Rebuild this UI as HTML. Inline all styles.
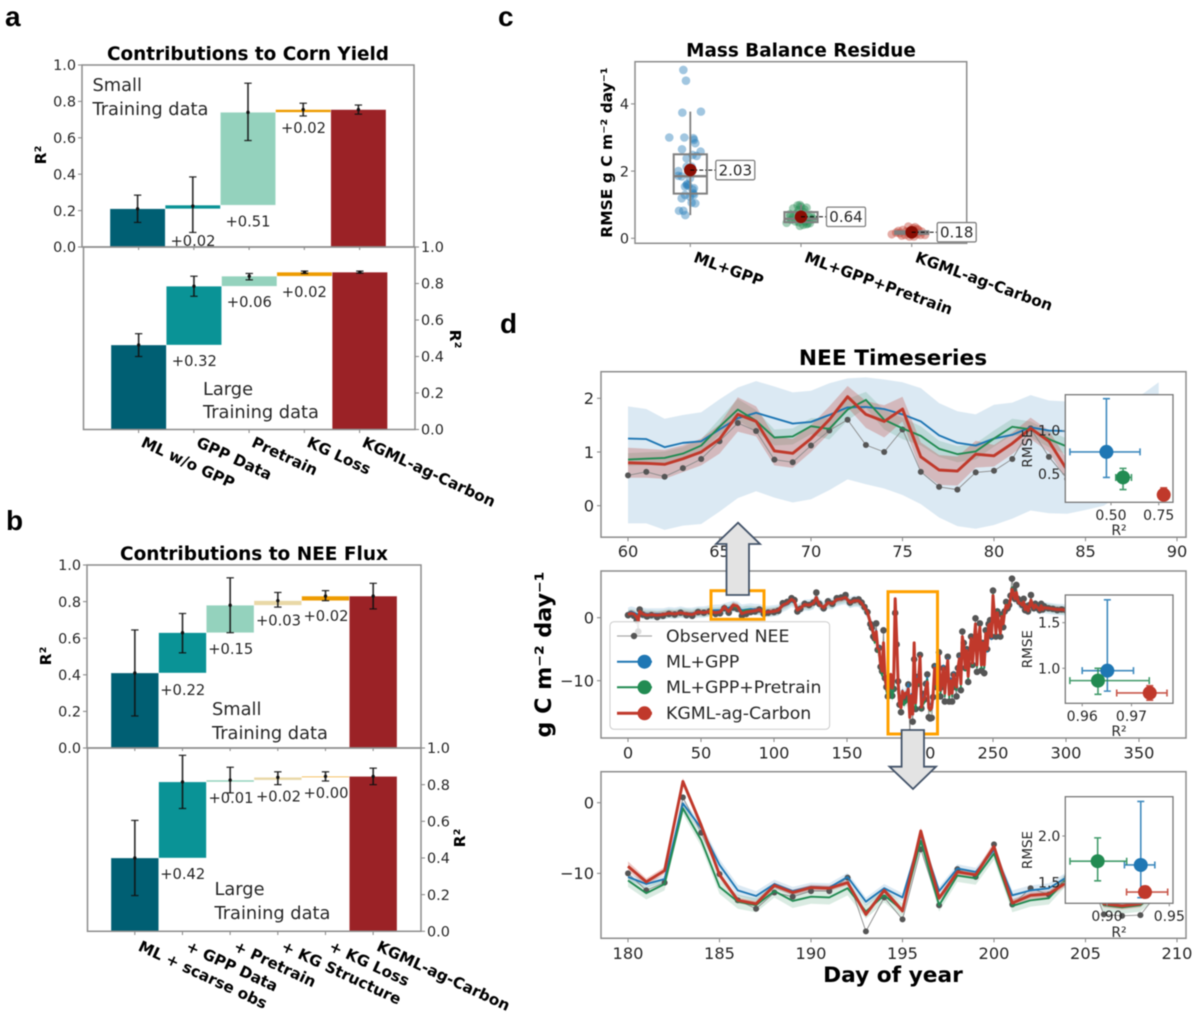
<!DOCTYPE html>
<html lang="en">
<head>
<meta charset="utf-8">
<title>KGML-ag-Carbon contributions and NEE timeseries</title>
<style>
html,body{margin:0;padding:0;background:#fff;}
body{width:1200px;height:1034px;overflow:hidden;}
svg{display:block;filter:blur(0.45px);}
text{font-family:"DejaVu Sans","Liberation Sans",sans-serif;fill:#262626;}
.t{font-weight:bold;fill:#000;}
.letter{font-family:"Liberation Sans",sans-serif;font-weight:bold;font-size:28px;fill:#000;}
.note{font-size:17.8px;}
.delta{font-size:14.7px;text-anchor:middle;}
.frame{fill:none;stroke:#8c8c8c;stroke-width:1.5;}
.leg{font-size:17.3px;fill:#262626;}
</style>
</head>
<body>
<svg id="figure" xmlns="http://www.w3.org/2000/svg" width="1200" height="1034" viewBox="0 0 1200 1034">
  <rect x="0" y="0" width="1200" height="1034" fill="#fff"/>

  <text class="letter" x="5" y="26">a</text>
  <text class="letter" x="6" y="530">b</text>
  <text class="letter" x="498" y="26">c</text>
  <text class="letter" x="500" y="333">d</text>

  <!-- Panel A -->
  <g id="panel-a">
    <text class="t" x="248" y="60" font-size="18.4" text-anchor="middle">Contributions to Corn Yield</text>
    <g id="a-top-bars"></g>
    <g id="a-bottom-bars"></g>
    <rect class="frame" x="82" y="65" width="332" height="182"/>
    <rect class="frame" x="83.5" y="247" width="331.5" height="182.5"/>
    <g id="a-ticks"></g>
    <text class="t" transform="translate(46,155) rotate(-90)" font-size="15.5" text-anchor="middle">R²</text>
    <text class="t" transform="translate(450,339) rotate(90)" font-size="15.5" text-anchor="middle">R²</text>
    <text class="note" x="92.5" y="91">Small</text>
    <text class="note" x="92.5" y="115">Training data</text>
    <text class="note" x="203" y="395">Large</text>
    <text class="note" x="203" y="418">Training data</text>
    <text class="delta" x="193" y="246">+0.02</text>
    <text class="delta" x="248" y="226.5">+0.51</text>
    <text class="delta" x="303.5" y="133">+0.02</text>
    <text class="delta" x="194.3" y="366">+0.32</text>
    <text class="delta" x="249.3" y="307">+0.06</text>
    <text class="delta" x="304.3" y="297">+0.02</text>
  </g>

  <!-- Panel B -->
  <g id="panel-b">
    <text class="t" x="254" y="560" font-size="18.5" text-anchor="middle">Contributions to NEE Flux</text>
    <g id="b-top-bars"></g>
    <g id="b-bottom-bars"></g>
    <rect class="frame" x="87" y="565" width="334" height="183"/>
    <rect class="frame" x="87.5" y="748" width="333.5" height="183.3"/>
    <g id="b-ticks"></g>
    <text class="t" transform="translate(51,656) rotate(-90)" font-size="15.5" text-anchor="middle">R²</text>
    <text class="t" transform="translate(465,838) rotate(-90)" font-size="15.5" text-anchor="middle">R²</text>
    <text class="note" x="212" y="715">Small</text>
    <text class="note" x="212" y="739">Training data</text>
    <text class="note" x="214.5" y="895">Large</text>
    <text class="note" x="214.5" y="919">Training data</text>
    <text class="delta" x="182.7" y="695">+0.22</text>
    <text class="delta" x="230.7" y="654">+0.15</text>
    <text class="delta" x="278.5" y="625.7">+0.03</text>
    <text class="delta" x="326" y="621">+0.02</text>
    <text class="delta" x="182.7" y="879">+0.42</text>
    <text class="delta" x="231" y="803">+0.01</text>
    <text class="delta" x="278.5" y="801.7">+0.02</text>
    <text class="delta" x="326" y="798">+0.00</text>
  </g>

  <!-- Panel C -->
  <g id="panel-c">
    <text class="t" x="801" y="56.5" font-size="18.4" text-anchor="middle">Mass Balance Residue</text>
    <g id="c-marks"></g>
    <rect class="frame" x="635" y="61.7" width="331.7" height="181.6"/>
    <g id="c-ticks"></g>
    <g id="c-annotations"></g>
    <text class="t" transform="translate(612,152.5) rotate(-90)" font-size="15.5" text-anchor="middle">RMSE g C m⁻² day⁻¹</text>
  </g>

  <!-- Panel D -->
  <g id="panel-d">
    <text class="t" x="893" y="365" font-size="21.7" text-anchor="middle">NEE Timeseries</text>
    <g id="d-top-series"></g>
    <g id="d-mid-series"></g>
    <g id="d-bottom-series"></g>
    <rect class="frame" x="601" y="371.7" width="585" height="165.5"/>
    <rect class="frame" x="601" y="571" width="585" height="167"/>
    <rect class="frame" x="601" y="771.7" width="585" height="166.6"/>
    <g id="d-ticks"></g>
    <text class="t" transform="translate(551,654.5) rotate(-90)" font-size="22.2" text-anchor="middle">g C m⁻² day⁻¹</text>
    <text class="t" x="893" y="982" font-size="21.7" text-anchor="middle">Day of year</text>

    <g id="legend">
      <rect x="610" y="621.7" width="219.6" height="107.6" rx="4" fill="#fff" fill-opacity="0.8" stroke="#ccc" stroke-width="1"/>
      <line x1="617" x2="652" y1="636" y2="636" stroke="#aaa" stroke-width="1.2"/>
      <circle cx="634" cy="636" r="3.2" fill="#555"/>
      <text class="leg" x="666" y="642">Observed NEE</text>
      <line x1="617" x2="652" y1="661.7" y2="661.7" stroke="#1f77b4" stroke-width="2"/>
      <circle cx="644.5" cy="661.7" r="7" fill="#1f77b4"/>
      <text class="leg" x="666" y="667.5">ML+GPP</text>
      <line x1="617" x2="652" y1="687.3" y2="687.3" stroke="#228b52" stroke-width="2"/>
      <circle cx="644.5" cy="687.3" r="7" fill="#228b52"/>
      <text class="leg" x="666" y="693">ML+GPP+Pretrain</text>
      <line x1="617" x2="652" y1="713.3" y2="713.3" stroke="#c0392b" stroke-width="3"/>
      <circle cx="644.5" cy="713.3" r="7" fill="#c0392b"/>
      <text class="leg" x="666" y="719">KGML-ag-Carbon</text>
    </g>

    <rect x="711" y="590.7" width="53" height="28.6" fill="none" stroke="#ffa000" stroke-width="3"/>
    <rect x="888" y="591.7" width="49.5" height="142.3" fill="none" stroke="#ffa000" stroke-width="3"/>

    <g id="d-insets"></g>

    <path d="M738 522.7 L760 544 L749 544 L749 595 L726.5 595 L726.5 544 L716 544 Z" fill="#e3e3e3" stroke="#44546a" stroke-width="1.8"/>
    <path d="M913 789 L936 766.7 L924 766.7 L924 730 L901.6 730 L901.6 766.7 L889.5 766.7 Z" fill="#e3e3e3" stroke="#44546a" stroke-width="1.8"/>
  </g>
</svg>

<script>
/* ---------- Panel A data ---------- */
const cornCategories = ['ML w/o GPP', 'GPP Data', 'Pretrain', 'KG Loss', 'KGML-ag-Carbon'];
const cornSmallBase = [0, 0.21, 0.23, 0.74, 0];
const cornSmallTop = [0.21, 0.23, 0.74, 0.755, 0.755];
const cornSmallMean = [0.21, 0.225, 0.74, 0.755, 0.755];
const cornSmallLow = [0.135, 0.08, 0.585, 0.72, 0.73];
const cornSmallHigh = [0.285, 0.385, 0.9, 0.79, 0.78];
const cornLargeBase = [0, 0.463, 0.785, 0.84, 0];
const cornLargeTop = [0.463, 0.785, 0.84, 0.862, 0.862];
const cornLargeMean = [0.463, 0.785, 0.84, 0.862, 0.862];
const cornLargeLow = [0.4, 0.73, 0.82, 0.855, 0.857];
const cornLargeHigh = [0.525, 0.84, 0.855, 0.868, 0.868];
const cornColours = ['#005f73', '#0a9396', '#94d2bd', '#ee9b00', '#9b2226'];

/* ---------- Panel B data ---------- */
const neeCategories = ['ML + scarse obs', '+ GPP Data', '+ Pretrain', '+ KG Structure', '+ KG Loss', 'KGML-ag-Carbon'];
const neeSmallBase = [0, 0.41, 0.63, 0.78, 0.805, 0];
const neeSmallTop = [0.41, 0.63, 0.78, 0.805, 0.83, 0.83];
const neeSmallMean = [0.41, 0.63, 0.78, 0.805, 0.83, 0.83];
const neeSmallLow = [0.175, 0.52, 0.63, 0.77, 0.805, 0.76];
const neeSmallHigh = [0.645, 0.735, 0.93, 0.85, 0.86, 0.9];
const neeLargeBase = [0, 0.4, 0.815, 0.825, 0.84, 0];
const neeLargeTop = [0.4, 0.815, 0.825, 0.84, 0.845, 0.845];
const neeLargeMean = [0.4, 0.815, 0.825, 0.84, 0.845, 0.845];
const neeLargeLow = [0.195, 0.67, 0.755, 0.8, 0.82, 0.8];
const neeLargeHigh = [0.605, 0.96, 0.895, 0.87, 0.87, 0.89];
const neeColours = ['#005f73', '#0a9396', '#94d2bd', '#e9d8a6', '#ee9b00', '#9b2226'];
const r2TickLabels = ['0.0', '0.2', '0.4', '0.6', '0.8', '1.0'];

/* ---------- Panel C data ---------- */
const massCategories = ['ML+GPP', 'ML+GPP+Pretrain', 'KGML-ag-Carbon'];
const massMeans = [2.03, 0.64, 0.18];
const massQ1 = [1.33, 0.48, 0.13];
const massMedian = [1.85, 0.58, 0.17];
const massQ3 = [2.5, 0.78, 0.21];
const massWhiskerLow = [0.69, 0.43, 0.08];
const massWhiskerHigh = [3.77, 1.0, 0.3];
const massYTicks = [0, 2, 4];
const massBluePointValues = [5.01,4.69,3.74,3.77,3.0,3.0,2.98,2.93,2.83,2.65,2.58,2.48,2.45,2.38,2.0,1.84,1.79,1.59,1.57,1.49,1.86,1.34,1.29,1.24,1.29,1.19,1.06,1.04,0.82,0.82,0.69,2.13,2.13,1.54,1.62,1.45];
const massBluePointJitter = [-0.063,-0.039,-0.072,0.096,-0.19,-0.054,0.027,0.033,0.045,-0.075,0.093,0.021,0.057,-0.033,-0.108,-0.078,-0.003,-0.033,-0.018,0.033,-0.108,0.027,0.033,-0.003,-0.048,-0.078,0.012,0.045,-0.102,-0.063,-0.045,-0.033,0.012,-0.048,-0.028,0.02];
const massGreenPointValues = [0.46,0.64,0.89,0.99,0.91,0.74,0.5,0.4,0.45,0.37,0.5,0.64,0.64,0.84,0.79,0.59,0.94,0.55,0.7,0.42,0.98,0.86,0.48,0.44,0.72,0.56];
const massGreenPointJitter = [-0.13,-0.1,-0.07,-0.01,0.05,-0.04,-0.05,0.02,0.08,-0.01,0.04,0.07,-0.07,-0.02,0.02,0.11,0,-0.09,0.09,0.05,-0.03,0.03,-0.02,0.06,-0.1,0.1];
const massRedPointValues = [0.12,0.35,0.33,0.25,0.25,0.1,0.17,0.15,0.2,0.05,0.1,0.05,0.1,0.17,0.3,0.22,0.28,0.12,0.2,0.08];
const massRedPointJitter = [-0.18,-0.03,0.03,-0.08,0.06,0.12,-0.14,-0.11,-0.05,0.02,0.08,-0.02,-0.06,0.03,0.01,-0.12,0.05,0.05,0.09,-0.09];

/* ---------- Panel D spring window (days 60-89) ---------- */
const springDays = [60,61,62,63,64,65,66,67,68,69,70,71,72,73,74,75,76,77,78,79,80,81,82,83,84,85,86,87,88,89];
const springObserved = [0.565,0.63,0.54,0.70,0.87,1.2,1.54,1.39,0.857,0.81,1.12,1.4,1.6,1.13,1.0,1.42,0.63,0.35,0.30,0.62,0.65,0.87,1.44,0.91,0.5,0.45,0.6,0.7,0.6,0.5];
const springBlue = [1.25,1.24,1.09,1.17,1.2,1.42,1.63,1.73,1.63,1.53,1.56,1.69,1.83,1.84,1.8,1.7,1.57,1.31,1.17,1.12,1.25,1.32,1.46,1.4,1.39,1.4,1.42,1.4,1.45,1.5];
const springGreen = [0.86,0.875,0.89,0.97,1.12,1.47,1.79,1.58,1.27,1.29,1.48,1.43,1.79,1.97,1.6,1.44,1.3,1.06,0.96,1.01,1.25,1.47,1.42,1.24,1.1,1,1,1.05,1.1,1.1];
const springRed = [0.8,0.79,0.77,0.875,1,1.24,1.7,1.57,1.02,0.975,1.25,1.6,2.03,1.7,1.57,1.8,0.91,0.665,0.645,0.96,0.93,1.16,1.44,1.2,0.66,0.6,0.7,0.8,0.7,0.6];
const springBlueUpper = [1.85,1.8,1.62,1.69,1.74,1.98,2.2,2.32,2.22,2.11,2.14,2.28,2.37,2.39,2.35,2.3,2.19,1.91,1.76,1.7,1.88,1.92,2.06,1.96,1.94,1.95,1.96,1.95,2.05,2.3];
const springBlueLower = [-0.33,-0.33,-0.45,-0.37,-0.34,-0.11,0.14,0.27,0.15,0.06,0.12,0.29,0.49,0.4,0.32,0.2,0.03,-0.22,-0.38,-0.43,-0.36,-0.24,-0.09,-0.14,-0.15,-0.08,0,0.23,0.5,0.6];
const springGreenSpread = [0.12,0.12,0.12,0.12,0.12,0.15,0.2,0.2,0.15,0.15,0.15,0.2,0.2,0.15,0.18,0.2,0.18,0.15,0.15,0.15,0.15,0.15,0.15,0.15,0.15,0.15,0.15,0.15,0.15,0.15];
const springRedSpread = [0.28,0.27,0.27,0.25,0.25,0.27,0.32,0.28,0.27,0.27,0.25,0.25,0.2,0.25,0.3,0.23,0.27,0.28,0.27,0.25,0.2,0.2,0.2,0.2,0.2,0.2,0.2,0.2,0.2,0.2];

/* ---------- Panel D summer window (days 180-209) ---------- */
const summerDays = [180,181,182,183,184,185,186,187,188,189,190,191,192,193,194,195,196,197,198,199,200,201,202,203,204,205,206,207,208,209];
const summerObserved = [-10,-12.4,-11.3,0.75,-4.25,-10.1,-13.8,-15,-12.7,-13.3,-12.5,-12.5,-10.6,-18.2,-13.4,-16.5,-6.6,-14.5,-9.4,-10.5,-5.9,-14.4,-12.1,-13,-10.5,-9,-15.8,-16,-15.9,-12.6];
const summerBlue = [-10.5,-11.5,-10.8,-0.1,-3.6,-8.8,-12.4,-13.2,-11.5,-12.5,-11.9,-12,-10.5,-14,-12.1,-13.4,-4.6,-12.5,-9.3,-9.8,-6.7,-13.1,-12.4,-12.1,-10.5,-9.5,-13.5,-13.8,-13.5,-12];
const summerGreen = [-11,-12.8,-11.5,-0.8,-5.3,-11.9,-14,-14.5,-12.5,-13.9,-13.3,-13.4,-12.1,-15.4,-13.1,-15.2,-5.4,-14.5,-10.3,-10.7,-7.2,-14.6,-13.8,-13.5,-10.7,-9.8,-14.5,-14.8,-14.5,-12.5];
const summerRed = [-9,-11.2,-9.6,3,-3.2,-10.2,-13.8,-14.3,-11.7,-12.7,-12,-12.1,-11.3,-15.8,-12.4,-15.3,-4,-13.5,-9.8,-10.2,-6.2,-14.2,-13.1,-12.9,-11.2,-10.2,-14.3,-14.6,-14.3,-12.1];
const summerBlueSpread = [0.5,0.5,0.5,0.6,0.7,0.8,0.8,0.7,0.6,0.6,0.6,0.6,0.6,0.6,0.6,0.6,0.6,0.6,0.6,0.6,0.6,0.7,0.7,0.7,0.7,0.7,0.7,0.7,0.7,0.7];
const summerGreenSpread = [0.9,0.9,0.9,0.8,0.9,1,1,1,0.9,1,1,1,1,1,1,1,0.9,0.9,0.9,0.9,0.9,0.9,0.9,0.9,0.9,0.9,0.9,0.9,0.9,0.9];
const summerRedSpread = [0.7,0.5,0.5,0.5,0.5,0.5,0.4,0.4,0.4,0.4,0.4,0.4,0.4,0.4,0.4,0.4,0.5,0.4,0.5,0.5,0.7,0.5,0.5,0.5,0.5,0.5,0.5,0.5,0.5,0.5];

/* ---------- Panel D full year (day, then each series, in three pieces) ---------- */
const yearEarlyDays = [0,2,4,6,7,8,10,13,16,20,24,28,32,36,40,44,48,52,56,60,63,66,69,72,75,78,81,84,87,90,93,96,100,103,106,109,112,114,116,118,121,124,127,129,131,134,137,140,143,146,149,152,155,158,160,162,164];
const yearObservedEarly = [0.4,0.6,0.3,-0.4,-2.2,1.3,0.5,0.2,0.4,0.1,0.3,0.6,0.5,0.8,0.4,0.3,0.9,0.8,1,0.6,0.7,1.5,0.8,1.6,1.4,0.3,0.6,0.9,1,1.3,0.6,0.8,0.9,1.1,2.3,2.5,3.1,2.8,1,1.4,2.2,2,2.4,4,2.2,1.5,2.6,2.2,3.1,3.2,3.6,2.4,2.8,2.9,2.4,1.7,0.9];
const yearRedEarly = [0.5,0.7,0.6,0.1,-0.5,1,0.6,0.4,0.5,0.4,0.5,0.7,0.6,0.8,0.6,0.5,0.9,0.8,1,0.8,0.9,1.7,1,2,1.8,0.65,0.9,1,1.1,1.3,0.8,0.9,1,1.2,2,2.3,2.9,2.6,1.2,1.5,2.1,2,2.3,3.2,2.1,1.6,2.4,2.2,2.9,3,3.2,2.4,2.7,2.7,2.3,1.6,0.9];
const yearBlueEarly = [0.7,0.9,0.8,0.6,0.5,0.9,0.7,0.6,0.6,0.6,0.6,0.8,0.7,0.9,0.7,0.7,0.9,0.9,1.1,1.2,1.2,1.4,1.6,1.8,1.7,1.2,1.3,1.4,1.3,1.3,1,1,1.1,1.2,1.8,2.1,2.6,2.4,1.3,1.5,2,2,2.2,3,2.2,1.7,2.3,2.2,2.7,2.9,3,2.4,2.6,2.6,2.2,1.5,0.8];
const yearGreenEarly = [0.5,0.7,0.6,0.3,0.2,0.9,0.6,0.5,0.5,0.4,0.5,0.7,0.6,0.8,0.7,0.6,0.9,0.8,1,0.9,1,1.5,1.3,1.8,1.5,1,1.2,1.2,1.1,1.2,0.9,0.9,1,1.1,1.9,2.2,2.7,2.5,1.2,1.5,2,1.9,2.2,3,2.1,1.6,2.3,2.1,2.8,2.9,3.1,2.3,2.6,2.6,2.2,1.4,0.7];

const yearDeclineDays = [166,167,168,169,170,171,172,173,174,175,176,177,178,179];
const yearObservedDecline = [-1,-1.6,-3,-3.3,-0.9,-5.1,-4.8,-7.8,-8.5,-2,-9.6,-11,-12.5,-11.6];
const yearRedDecline = [-0.8,-1.5,-2.5,-3.5,-2.2,-4.8,-5,-7.5,-8.5,-4,-9.5,-11,-11.8,-10.8];
const yearBlueDecline = [-0.6,-1.2,-2.2,-3,-2,-4.3,-4.6,-7,-8,-4,-9,-10.5,-11.3,-10.4];
const yearGreenDecline = [-1.1,-1.9,-3,-4,-2.8,-5.4,-5.6,-8.2,-9.2,-4.8,-10.2,-11.7,-12.6,-11.6];

const yearRecoveryDays = [210,211,212,213,214,215,216,217,218,219,220,221,222,223,224,225,226,227,228,229,230,231,232,233,234,235,236,237,238,239,240,241,242,243,244,245,246,247,248,249,250,251,252,253,254,255,256,257,258,259,260,261,262,263,264,265,266,267,268,269,270,271,272,273,274,275,276,277,278,279,280,281,282,283,284,285];
const yearObservedRecovery = [-7.7,-11,-9,-5.5,-12.5,-11,-8,-13.3,-9,-6.2,
  -13.3,-10,-13.3,-9,-11,-12.5,-8,-6,-11.5,-2.2,
  -4,-8,-5,-10.2,-6,-3,-7.5,-4,-0.1,-8.6,
  -3,-0.9,-8.4,-4,-8.8,-2,-5,-1,-0.4,-3,
  4.3,0.5,-3,1,-1,-3,0.5,-1.5,1,2.5,
  1.5,2,3.5,6.2,4.5,3,5.2,3,2.5,2.5,
  2,3,1.2,1.8,1,2,3.6,2,1.5,2.2,
  1.8,1.5,1.2,2.2,1.3,1.8];
const yearRedRecovery = [-8,-10.5,-9,-6,-11.5,-10.5,-8,-12,-9,-6.8,
  -12.2,-10,-12,-9,-10.5,-11,-8,-6.5,-10.5,-3,
  -4.5,-8,-5.2,-9.3,-6,-3.3,-7.2,-4,-1,-7.5,
  -3.3,-1.5,-7.5,-4,-7.5,-2.5,-5,-1.2,-1,-3,
  3.5,0.3,-2.5,0.8,-1,-2.5,0.2,-1,1,2,
  1.5,2,3,4.5,3.8,3,4,2.8,2.3,2.3,
  2,2.5,1.3,1.8,1.1,1.8,2.8,2,1.5,2,
  1.7,1.5,1.2,1.9,1.3,1.6];
const yearBlueRecovery = [-7.6,-10,-8.6,-5.7,-11,-10,-7.6,-11.5,-8.6,-6.5,
  -11.7,-9.6,-11.5,-8.7,-10,-10.5,-7.7,-6.2,-10,-3,
  -4.3,-7.6,-5,-9,-5.8,-3.4,-7,-4,-1.3,-7.3,
  -3.5,-2,-7.6,-4.5,-8,-3.2,-5.4,-1.8,-1.5,-3.4,
  2.8,0.2,-2.4,0.7,-0.9,-2.2,0.2,-0.8,1,1.8,
  1.5,1.9,2.8,4,3.5,2.9,3.6,2.7,2.3,2.3,
  2,2.4,1.4,1.8,1.2,1.8,2.5,2,1.6,2,
  1.7,1.5,1.3,1.8,1.4,1.6];
const yearGreenRecovery = [-8.4,-11,-9.4,-6.4,-12,-11,-8.4,-12.5,-9.4,-7.2,
  -12.7,-10.4,-12.5,-9.4,-11,-11.5,-8.4,-6.9,-11,-3.4,
  -4.8,-8.4,-5.5,-9.7,-6.4,-3.6,-7.6,-4.3,-1.2,-7.9,
  -3.6,-1.7,-8,-4.3,-8,-2.7,-5.2,-1.3,-1,-3,
  3.7,0.6,-2.2,1.1,-0.7,-2.1,0.5,-0.7,1.2,2.2,
  1.7,2.1,3.1,4.8,4,3.2,4.2,3,2.5,2.4,
  2.1,2.6,1.4,1.9,1.2,1.9,2.9,2.1,1.6,2.1,
  1.8,1.6,1.3,2,1.4,1.7];

const yearLateDays = [288,291,294,297,300,303,306,309,312,315,318,321,324,327,330,333,336,339,342,345,348,351,354,357,360,363];
const yearObservedLate = [1.5,1.4,1.2,1.3,1.2,1.1,1,1,1,0.9,0.9,0.9,0.8,0.8,0.8,0.7,0.7,0.7,0.6,0.6,0.6,0.6,0.5,0.5,0.5,0.5];
const yearRedLate = [1.5,1.4,1.3,1.3,1.2,1.1,1.1,1,1,0.9,0.9,0.9,0.8,0.8,0.8,0.7,0.7,0.7,0.6,0.6,0.6,0.6,0.5,0.5,0.5,0.5];
const yearBlueLate = [1.5,1.4,1.3,1.3,1.2,1.2,1.1,1,1,1,0.9,0.9,0.8,0.8,0.8,0.7,0.7,0.7,0.7,0.6,0.6,0.6,0.5,0.5,0.5,0.5];
const yearGreenLate = [1.5,1.4,1.3,1.2,1.2,1.1,1,1,1,0.9,0.9,0.8,0.8,0.8,0.7,0.7,0.7,0.7,0.6,0.6,0.6,0.5,0.5,0.5,0.5,0.5];
const yearBlueSpread = 0.9;
const yearGreenSpread = 0.7;
const yearRedSpread = 0.5;

const springXTicks = [60,65,70,75,80,85,90];
const springYTicks = [0,1,2];
const yearXTicks = [0,50,100,150,200,250,300,350];
const yearYTicks = [0,-10];
const summerXTicks = [180,185,190,195,200,205,210];
const summerYTicks = [0,-10];

/* ---------- Inset data (order: ML+GPP, ML+GPP+Pretrain, KGML-ag-Carbon) ---------- */
const springInsetR2 = [0.476,0.563,0.776];
const springInsetR2Low = [0.285,0.525,0.755];
const springInsetR2High = [0.652,0.607,0.80];
const springInsetRmse = [0.755,0.46,0.26];
const springInsetRmseLow = [0.46,0.32,0.2];
const springInsetRmseHigh = [1.37,0.565,0.34];
const springInsetXTicks = [0.5,0.75];
const springInsetYTicks = [0.5,1.0];

const yearInsetR2 = [0.9651,0.9632,0.9737];
const yearInsetR2Low = [0.96,0.9575,0.967];
const yearInsetR2High = [0.9704,0.9736,0.9772];
const yearInsetRmse = [0.974,0.865,0.73];
const yearInsetRmseLow = [0.75,0.715,0.65];
const yearInsetRmseHigh = [1.75,1.0,0.81];
const yearInsetXTicks = [0.96,0.97];
const yearInsetYTicks = [1.0,1.5];

const summerInsetR2 = [0.9271,0.8925,0.9305];
const summerInsetR2Low = [0.914,0.8703,0.9157];
const summerInsetR2High = [0.9384,0.9158,0.9487];
const summerInsetRmse = [1.69,1.73,1.40];
const summerInsetRmseLow = [1.34,1.52,1.34];
const summerInsetRmseHigh = [2.37,1.98,1.46];
const summerInsetXTicks = [0.9,0.95];
const summerInsetYTicks = [1.5,2.0];

const seriesBlue = '#1f77b4';
const seriesGreen = '#228b52';
const seriesRed = '#c0392b';

/* ---------- helpers ---------- */
const SVG_NS = 'http://www.w3.org/2000/svg';
function make(tag, attrs, parent) {
  const el = document.createElementNS(SVG_NS, tag);
  Object.keys(attrs).forEach(function (k) { el.setAttribute(k, attrs[k]); });
  parent.appendChild(el);
  return el;
}
function pathOf(xs, ys) {
  return xs.map(function (x, i) { return (i ? 'L' : 'M') + x.toFixed(2) + ' ' + ys[i].toFixed(2); }).join(' ');
}
function areaOf(xs, upper, lower) {
  const top = xs.map(function (x, i) { return (i ? 'L' : 'M') + x.toFixed(2) + ' ' + upper[i].toFixed(2); });
  const bottom = xs.map(function (x, i) { return 'L' + x.toFixed(2) + ' ' + lower[i].toFixed(2); }).reverse();
  return top.concat(bottom).join(' ') + ' Z';
}
function tickLine(parent, x1, y1, x2, y2) {
  const t = make('line', {x1: x1, y1: y1, x2: x2, y2: y2, stroke: '#8c8c8c', 'stroke-width': 1.1}, parent);
  
  
}
function tickText(parent, x, y, anchor, size, content) {
  const t = make('text', {x: x, y: y, 'text-anchor': anchor, 'font-size': size}, parent);
  
  
  t.textContent = content;
}
function rotatedLabel(parent, x, y, angle, size, content) {
  const t = make('text', {transform: 'translate(' + x + ',' + y + ') rotate(' + angle + ')', 'font-size': size, class: 't'}, parent);
  
  
  t.textContent = content;
}

/* ---------- waterfall bars ---------- */
function drawWaterfall(parent, base, top, mean, low, high, colours, xLeft, band, yZero, yUnit) {
  const sy = function (v) { return yZero - v * yUnit; };
  base.forEach(function (b, i) {
    const bar = make('rect', {x: xLeft + i * band, y: sy(top[i]), width: band, height: Math.max(sy(b) - sy(top[i]), 0), fill: colours[i], stroke: '#fff', 'stroke-opacity': 0.55, 'stroke-width': 0.6}, parent);
    
    
  });
  mean.forEach(function (m, i) {
    const cx = xLeft + (i + 0.5) * band;
    const stem = make('line', {x1: cx, x2: cx, y1: sy(low[i]), y2: sy(high[i]), stroke: '#111', 'stroke-width': 1.7, 'stroke-opacity': 0.85}, parent);
    
    
    const capLow = make('line', {x1: cx - 3.7, x2: cx + 3.7, y1: sy(low[i]), y2: sy(low[i]), stroke: '#111', 'stroke-width': 1.3, 'stroke-opacity': 0.85}, parent);
    
    
    const capHigh = make('line', {x1: cx - 3.7, x2: cx + 3.7, y1: sy(high[i]), y2: sy(high[i]), stroke: '#111', 'stroke-width': 1.3, 'stroke-opacity': 0.85}, parent);
    
    
    const dot = make('circle', {cx: cx, cy: sy(m), r: 1.7, fill: '#111'}, parent);
    
    
  });
}

/* Panel A */
drawWaterfall(document.getElementById('a-top-bars'), cornSmallBase, cornSmallTop, cornSmallMean, cornSmallLow, cornSmallHigh, cornColours, 110, 55.2, 247, 182);
drawWaterfall(document.getElementById('a-bottom-bars'), cornLargeBase, cornLargeTop, cornLargeMean, cornLargeLow, cornLargeHigh, cornColours, 111, 55.3, 429.5, 182.5);
(function () {
  const g = document.getElementById('a-ticks');
  r2TickLabels.forEach(function (label) {
    const v = parseFloat(label);
    const y1 = 247 - v * 182;
    tickLine(g, 78, y1, 82, y1);
    tickText(g, 76, y1 + 5.2, 'end', 14.4, label);
    const y2 = 429.5 - v * 182.5;
    tickLine(g, 415, y2, 419, y2);
    tickText(g, 421, y2 + 5.2, 'start', 14.4, label);
  });
  cornCategories.forEach(function (name, i) {
    const x = 138.6 + i * 55.25;
    tickLine(g, x, 247, x, 250);
    tickLine(g, x, 429.5, x, 433);
    rotatedLabel(g, x + 1.5, 446, 25, 15.3, name);
  });
})();

/* Panel B */
drawWaterfall(document.getElementById('b-top-bars'), neeSmallBase, neeSmallTop, neeSmallMean, neeSmallLow, neeSmallHigh, neeColours, 111, 47.67, 748, 183);
drawWaterfall(document.getElementById('b-bottom-bars'), neeLargeBase, neeLargeTop, neeLargeMean, neeLargeLow, neeLargeHigh, neeColours, 111, 47.67, 931.3, 183.3);
(function () {
  const g = document.getElementById('b-ticks');
  r2TickLabels.forEach(function (label) {
    const v = parseFloat(label);
    const y1 = 748 - v * 183;
    tickLine(g, 83, y1, 87, y1);
    tickText(g, 81, y1 + 5.2, 'end', 14.4, label);
    const y2 = 931.3 - v * 183.3;
    tickLine(g, 421, y2, 425, y2);
    tickText(g, 427, y2 + 5.2, 'start', 14.4, label);
  });
  neeCategories.forEach(function (name, i) {
    const x = 134.8 + i * 47.67;
    tickLine(g, x, 748, x, 751);
    tickLine(g, x, 931.3, x, 935);
    rotatedLabel(g, x + 2.5, 950, 25, 15.3, name);
  });
})();

/* Panel C */
(function () {
  const marks = document.getElementById('c-marks');
  const ticks = document.getElementById('c-ticks');
  const notes = document.getElementById('c-annotations');
  const sx = function (pos) { return 690.3 + pos * 110.7; };
  const sy = function (v) { return 238.3 - v * 33.6; };

  massBluePointValues.forEach(function (v, i) {
    const p = make('circle', {cx: sx(massBluePointJitter[i]), cy: sy(v), r: 4.3, fill: seriesBlue, 'fill-opacity': 0.42}, marks);
    
    
  });
  massGreenPointValues.forEach(function (v, i) {
    const p = make('circle', {cx: sx(1 + massGreenPointJitter[i]), cy: sy(v), r: 4.3, fill: seriesGreen, 'fill-opacity': 0.42}, marks);
    
    
  });
  massRedPointValues.forEach(function (v, i) {
    const p = make('circle', {cx: sx(2 + massRedPointJitter[i]), cy: sy(v), r: 4.3, fill: seriesRed, 'fill-opacity': 0.42}, marks);
    
    
  });

  massCategories.forEach(function (name, i) {
    const cx = sx(i);
    const halfBox = 16.6;
    const whisker = make('line', {x1: cx, x2: cx, y1: sy(massWhiskerLow[i]), y2: sy(massWhiskerHigh[i]), stroke: '#7f7f7f', 'stroke-width': 1.8}, marks);
    
    
    const box = make('rect', {x: cx - halfBox, y: sy(massQ3[i]), width: 2 * halfBox, height: sy(massQ1[i]) - sy(massQ3[i]), fill: 'none', stroke: '#7f7f7f', 'stroke-width': 2}, marks);
    
    
    const median = make('line', {x1: cx - halfBox, x2: cx + halfBox, y1: sy(massMedian[i]), y2: sy(massMedian[i]), stroke: '#7f7f7f', 'stroke-width': 2.4}, marks);
    
    
    const mean = make('circle', {cx: cx, cy: sy(massMeans[i]), r: 6.3, fill: '#8b0e04'}, marks);
    
    

    tickLine(ticks, cx, 243.3, cx, 247);
    rotatedLabel(ticks, cx + 2.5, 261.5, 20, 15.3, name);

    const link = make('line', {x1: cx, x2: cx + 26, y1: sy(massMeans[i]), y2: sy(massMeans[i]), stroke: '#000', 'stroke-width': 1, 'stroke-dasharray': '4 2 1 2'}, notes);
    
    
    const tag = make('rect', {x: cx + 25.5, y: sy(massMeans[i]) - 9.7, width: 39, height: 19.4, rx: 1.5, fill: '#fff', stroke: '#7f7f7f', 'stroke-width': 1.3}, notes);
    
    
    const value = make('text', {x: cx + 45, y: sy(massMeans[i]) + 5.4, 'text-anchor': 'middle', 'font-size': 15}, notes);
    
    
    value.textContent = massMeans[i].toFixed(2);
  });

  massYTicks.forEach(function (v) {
    tickLine(ticks, 631, sy(v), 635, sy(v));
    tickText(ticks, 629, sy(v) + 5.2, 'end', 14.4, String(v));
  });
})();

/* ---------- Panel D series ---------- */
function drawSeries(parent, days, observed, blue, green, red, blueUp, blueLow, greenUp, greenLow, redUp, redLow, sx, sy, dotRadius, redWidth, lineWidth) {
  const xs = days.map(sx);
  const blueBand = make('path', {d: areaOf(xs, blueUp.map(sy), blueLow.map(sy)), fill: seriesBlue, 'fill-opacity': 0.16}, parent);
  
  
  const greenBand = make('path', {d: areaOf(xs, greenUp.map(sy), greenLow.map(sy)), fill: seriesGreen, 'fill-opacity': 0.17}, parent);
  
  
  const redBand = make('path', {d: areaOf(xs, redUp.map(sy), redLow.map(sy)), fill: seriesRed, 'fill-opacity': 0.27}, parent);
  
  

  const obsLine = make('path', {d: pathOf(xs, observed.map(sy)), fill: 'none', stroke: '#8a8a8a', 'stroke-width': 0.9}, parent);
  
  
  observed.forEach(function (v, i) {
    const dot = make('circle', {cx: xs[i], cy: sy(v), r: dotRadius, fill: '#555'}, parent);
    
    
  });

  const blueLine = make('path', {d: pathOf(xs, blue.map(sy)), fill: 'none', stroke: seriesBlue, 'stroke-width': lineWidth, 'stroke-linejoin': 'round'}, parent);
  
  
  const greenLine = make('path', {d: pathOf(xs, green.map(sy)), fill: 'none', stroke: seriesGreen, 'stroke-width': lineWidth, 'stroke-linejoin': 'round'}, parent);
  
  
  const redLine = make('path', {d: pathOf(xs, red.map(sy)), fill: 'none', stroke: seriesRed, 'stroke-width': redWidth, 'stroke-linejoin': 'round'}, parent);
  
  
}
function addArrays(a, b) { return a.map(function (v, i) { return v + b[i]; }); }
function subArrays(a, b) { return a.map(function (v, i) { return v - b[i]; }); }

/* spring */
const springX = function (d) { return 628 + (d - 60) * 18.3; };
const springY = function (v) { return 505.7 - v * 53.7; };
drawSeries(document.getElementById('d-top-series'), springDays, springObserved, springBlue, springGreen, springRed,
  springBlueUpper, springBlueLower,
  addArrays(springGreen, springGreenSpread), subArrays(springGreen, springGreenSpread),
  addArrays(springRed, springRedSpread), subArrays(springRed, springRedSpread),
  springX, springY, 3, 2.9, 1.9);

/* full year */
const yearDays = yearEarlyDays.concat(yearDeclineDays, summerDays, yearRecoveryDays, yearLateDays);
const yearObserved = yearObservedEarly.concat(yearObservedDecline, summerObserved, yearObservedRecovery, yearObservedLate);
const yearRed = yearRedEarly.concat(yearRedDecline, summerRed, yearRedRecovery, yearRedLate);
const yearBlue = yearBlueEarly.concat(yearBlueDecline, summerBlue, yearBlueRecovery, yearBlueLate);
const yearGreen = yearGreenEarly.concat(yearGreenDecline, summerGreen, yearGreenRecovery, yearGreenLate);
const yearX = function (d) { return 628 + d * 1.46; };
const yearY = function (v) { return 617.7 - v * 6.3; };
drawSeries(document.getElementById('d-mid-series'), yearDays, yearObserved, yearBlue, yearGreen, yearRed,
  yearBlue.map(function (v) { return v + yearBlueSpread; }), yearBlue.map(function (v) { return v - yearBlueSpread; }),
  yearGreen.map(function (v) { return v + yearGreenSpread; }), yearGreen.map(function (v) { return v - yearGreenSpread; }),
  yearRed.map(function (v) { return v + yearRedSpread; }), yearRed.map(function (v) { return v - yearRedSpread; }),
  yearX, yearY, 3.3, 3, 1.8);

/* summer */
const summerX = function (d) { return 628 + (d - 180) * 18.3; };
const summerY = function (v) { return 802.7 - v * 7.07; };
drawSeries(document.getElementById('d-bottom-series'), summerDays, summerObserved, summerBlue, summerGreen, summerRed,
  addArrays(summerBlue, summerBlueSpread), subArrays(summerBlue, summerBlueSpread),
  addArrays(summerGreen, summerGreenSpread), subArrays(summerGreen, summerGreenSpread),
  addArrays(summerRed, summerRedSpread), subArrays(summerRed, summerRedSpread),
  summerX, summerY, 3, 2.9, 1.9);

/* Panel D ticks */
(function () {
  const g = document.getElementById('d-ticks');
  function labelFor(v) { return v < 0 ? '\u2212' + Math.abs(v) : String(v); }
  function axisTicks(xTicks, yTicks, sx, sy, axisBottom, baseline) {
    xTicks.forEach(function (d) {
      tickLine(g, sx(d), axisBottom, sx(d), axisBottom + 4);
      tickText(g, sx(d), baseline, 'middle', 16.2, labelFor(d));
    });
    yTicks.forEach(function (v) {
      tickLine(g, 597, sy(v), 601, sy(v));
      tickText(g, 594, sy(v) + 5.8, 'end', 16.2, labelFor(v));
    });
  }
  axisTicks(springXTicks, springYTicks, springX, springY, 537.2, 557);
  axisTicks(yearXTicks, yearYTicks, yearX, yearY, 738, 758.5);
  axisTicks(summerXTicks, summerYTicks, summerX, summerY, 938.3, 959);
})();

/* Panel D insets */
function drawInset(r2, r2Low, r2High, rmse, rmseLow, rmseHigh, xTicks, yTicks, tickDigits, top, bottom, x0, xScale, y0, yScale, markR, titleX, xLabelY) {
  const parent = document.getElementById('d-insets');
  const left = 1065.3;
  const right = 1173;
  const colours = [seriesBlue, seriesGreen, seriesRed];
  const sx = function (v) { return x0 + (v - xTicks[0]) * xScale; };
  const sy = function (v) { return y0 - (v - yTicks[0]) * yScale; };
  const box = make('rect', {x: left, y: top, width: right - left, height: bottom - top, fill: '#fff', stroke: '#777', 'stroke-width': 1.3}, parent);
  
  
  r2.forEach(function (v, i) {
    const col = colours[i];
    const cx = sx(v);
    const cy = sy(rmse[i]);
    const hBar = make('path', {d: 'M' + sx(r2Low[i]) + ' ' + cy + 'H' + sx(r2High[i]) + 'M' + sx(r2Low[i]) + ' ' + (cy - 3.5) + 'V' + (cy + 3.5) + 'M' + sx(r2High[i]) + ' ' + (cy - 3.5) + 'V' + (cy + 3.5), fill: 'none', stroke: col, 'stroke-width': 1.6, 'stroke-opacity': 0.85}, parent);
    
    
    const vBar = make('path', {d: 'M' + cx + ' ' + sy(rmseLow[i]) + 'V' + sy(rmseHigh[i]) + 'M' + (cx - 3.5) + ' ' + sy(rmseLow[i]) + 'H' + (cx + 3.5) + 'M' + (cx - 3.5) + ' ' + sy(rmseHigh[i]) + 'H' + (cx + 3.5), fill: 'none', stroke: col, 'stroke-width': 1.6, 'stroke-opacity': 0.85}, parent);
    
    
    const mark = make('circle', {cx: cx, cy: cy, r: markR, fill: col}, parent);
    
    
  });
  xTicks.forEach(function (v) {
    tickLine(parent, sx(v), bottom, sx(v), bottom + 3);
    tickText(parent, sx(v), bottom + 17.5, 'middle', 14, v.toFixed(tickDigits));
  });
  yTicks.forEach(function (v) {
    tickLine(parent, left - 3, sy(v), left, sy(v));
    tickText(parent, left - 5, sy(v) + 5, 'end', 14, v.toFixed(1));
  });
  const rmseLabel = make('text', {transform: 'translate(' + titleX + ',' + ((top + bottom) / 2) + ') rotate(-90)', 'text-anchor': 'middle', 'font-size': 13.5}, parent);
  
  
  rmseLabel.textContent = 'RMSE';
  const r2Label = make('text', {x: 1119, y: xLabelY, 'text-anchor': 'middle', 'font-size': 14}, parent);
  
  
  r2Label.textContent = 'R²';
}
drawInset(springInsetR2, springInsetR2Low, springInsetR2High, springInsetRmse, springInsetRmseLow, springInsetRmseHigh, springInsetXTicks, springInsetYTicks, 2, 394.7, 502.3, 1111, 191, 474, 86.6, 7, 1032, 535);
drawInset(yearInsetR2, yearInsetR2Low, yearInsetR2High, yearInsetRmse, yearInsetRmseLow, yearInsetRmseHigh, yearInsetXTicks, yearInsetYTicks, 2, 595, 703.3, 1082.2, 4930, 668.3, 91.3, 7, 1032, 736);
drawInset(summerInsetR2, summerInsetR2Low, summerInsetR2High, summerInsetRmse, summerInsetRmseLow, summerInsetRmseHigh, summerInsetXTicks, summerInsetYTicks, 2, 796.7, 903.3, 1107, 1246, 882.7, 93.4, 7, 1032, 937);
</script>
</body>
</html>
